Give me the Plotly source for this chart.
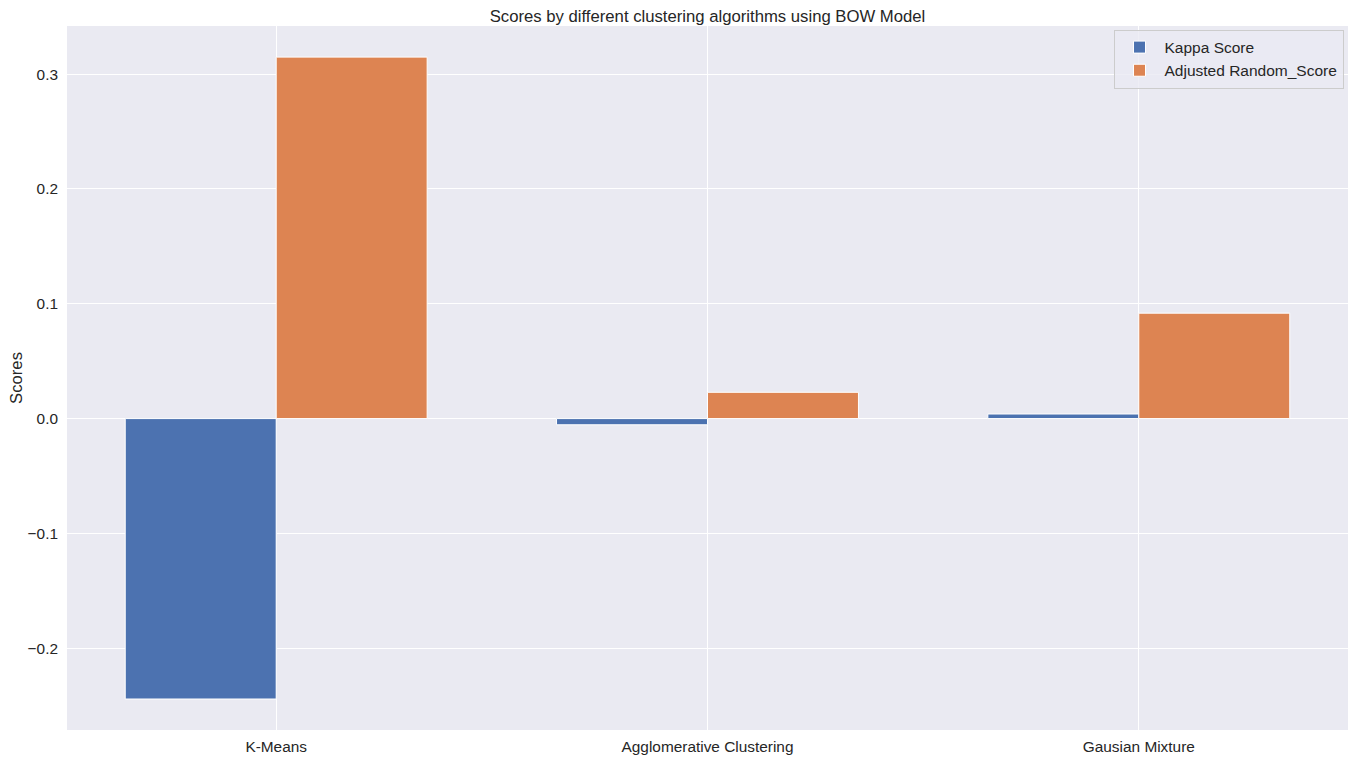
import plotly.graph_objects as go

algorithms = ["K-Means", "Agglomerative Clustering", "Gausian Mixture"]
kappa_score = [-0.2442, -0.0054, 0.0040]
adjusted_random_score = [0.3148, 0.0229, 0.0918]

BG = "#EAEAF2"
FONT = "Liberation Sans, Arial, sans-serif"

fig = go.Figure()
fig.add_trace(go.Bar(
    x=algorithms, y=kappa_score, name="Kappa Score",
    marker=dict(color="#4C72B0", line=dict(color="white", width=1)),
))
fig.add_trace(go.Bar(
    x=algorithms, y=adjusted_random_score, name="Adjusted Random_Score",
    marker=dict(color="#DD8452", line=dict(color="white", width=1)),
))

fig.update_layout(
    width=1356, height=762,
    barmode="group", bargap=0.3, bargroupgap=0,
    paper_bgcolor="white", plot_bgcolor=BG,
    font=dict(family=FONT, size=15.4, color="#262626"),
    margin=dict(l=67, r=8, t=26, b=32),
    title=dict(text="Scores by different clustering algorithms using BOW Model",
               x=0.5, xanchor="center", xref="paper",
               y=1, yref="paper", yanchor="bottom", pad=dict(b=4),
               font=dict(size=16.7, color="#262626")),
    legend=dict(x=0.9965, y=0.995, xanchor="right", yanchor="top",
                bgcolor="rgba(234,234,242,0.8)", bordercolor="#cccccc",
                borderwidth=1, font=dict(size=15.5), itemwidth=40,
                tracegroupgap=0),
    showlegend=True,
)
fig.update_xaxes(range=[-0.485, 2.485], showgrid=True, gridcolor="white",
                 gridwidth=1, zeroline=False, ticks="", ticklabelstandoff=6)
fig.update_yaxes(range=[-0.2712, 0.3419], tickvals=[-0.2, -0.1, 0.0, 0.1, 0.2, 0.3],
                 tickformat=".1f", showgrid=True, gridcolor="white", gridwidth=1,
                 zeroline=False, ticks="", ticklabelstandoff=8,
                 title=dict(text="Scores", font=dict(size=16.7), standoff=0))

# drop the default 8px body margin so the figure fills the window
fig.write_html("out.html", config={"displayModeBar": False},
               post_script="document.body.style.margin = '0';")
